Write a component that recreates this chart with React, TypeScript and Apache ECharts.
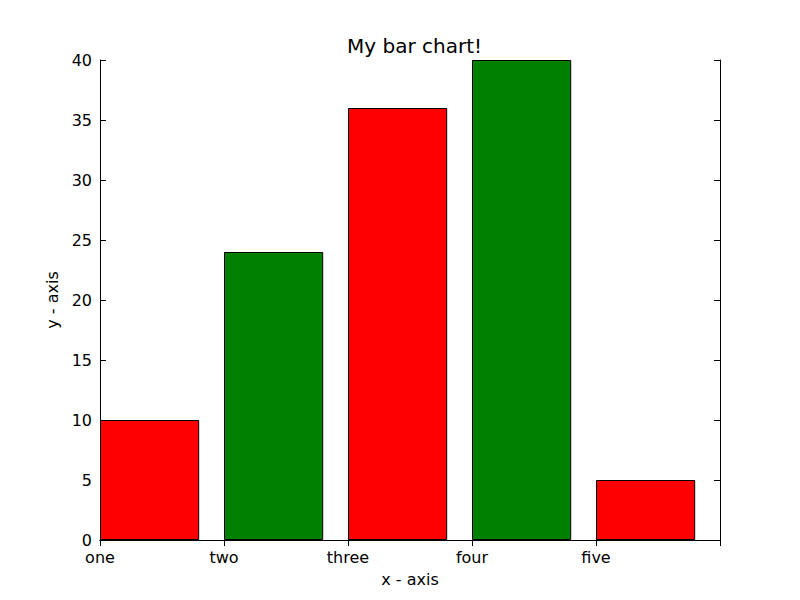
import { useEffect, useRef } from 'react';
import * as echarts from 'echarts';

const categories = ['one', 'two', 'three', 'four', 'five'];
const values = [10, 24, 36, 40, 5];
const barColors = ['#ff0000', '#008000', '#ff0000', '#008000', '#ff0000'];

const FONT = 'DejaVu Sans';

export default function App() {
  const chartRef = useRef<HTMLDivElement>(null);

  useEffect(() => {
    if (!chartRef.current) return;
    const chart = echarts.init(chartRef.current, null, { renderer: 'svg' });

    // bars sit at x = 1..5, left-aligned, width 0.8 (matplotlib style)
    const barData = values.map((v, i) => ({
      value: [i + 1 + 0.4, v],
      itemStyle: { color: barColors[i] },
    }));

    const tickCommon = {
      show: true,
      inside: true,
      length: 6,
      lineStyle: { color: '#000', width: 1 },
    };

    const option: echarts.EChartsOption = {
      animation: false,
      backgroundColor: '#fff',
      textStyle: { fontFamily: FONT },
      title: {
        text: 'My bar chart!',
        left: 342,
        top: 31,
        textStyle: { fontFamily: FONT, fontSize: 20, fontWeight: 'normal', color: '#000' },
      },
      grid: { left: 100, top: 60, width: 620, height: 480 },
      xAxis: [
        {
          type: 'value',
          min: 1,
          max: 6,
          interval: 1,
          name: 'x - axis',
          nameLocation: 'middle',
          nameGap: 31,
          nameTextStyle: { fontFamily: FONT, fontSize: 16, color: '#000' },
          axisLine: { show: true, lineStyle: { color: '#000', width: 1 } },
          axisTick: tickCommon,
          splitLine: { show: false },
          axisLabel: {
            fontFamily: FONT,
            fontSize: 16,
            color: '#000',
            margin: 9,
            formatter: (v: number) => categories[v - 1] ?? '',
          },
        },
        {
          type: 'value',
          position: 'top',
          min: 1,
          max: 6,
          interval: 1,
          axisLine: { show: true, lineStyle: { color: '#000', width: 1 } },
          axisTick: tickCommon,
          splitLine: { show: false },
          axisLabel: { show: false },
        },
      ],
      yAxis: [
        {
          type: 'value',
          min: 0,
          max: 40,
          interval: 5,
          name: 'y - axis',
          nameLocation: 'middle',
          nameGap: 35,
          nameTextStyle: { fontFamily: FONT, fontSize: 16, color: '#000' },
          axisLine: { show: true, lineStyle: { color: '#000', width: 1 } },
          axisTick: tickCommon,
          splitLine: { show: false },
          axisLabel: { fontFamily: FONT, fontSize: 16, color: '#000', margin: 8 },
        },
        {
          type: 'value',
          position: 'right',
          min: 0,
          max: 40,
          interval: 5,
          axisLine: { show: true, lineStyle: { color: '#000', width: 1 } },
          axisTick: tickCommon,
          splitLine: { show: false },
          axisLabel: { show: false },
        },
      ],
      series: [
        {
          type: 'bar',
          xAxisIndex: 0,
          yAxisIndex: 0,
          barWidth: 99.2,
          data: barData,
          itemStyle: { borderColor: '#000', borderWidth: 1 },
        },
      ],
    };

    chart.setOption(option);
    return () => chart.dispose();
  }, []);

  return (
    <div
      ref={chartRef}
      style={{ position: 'absolute', left: 0, top: 0, width: 800, height: 600 }}
    />
  );
}
